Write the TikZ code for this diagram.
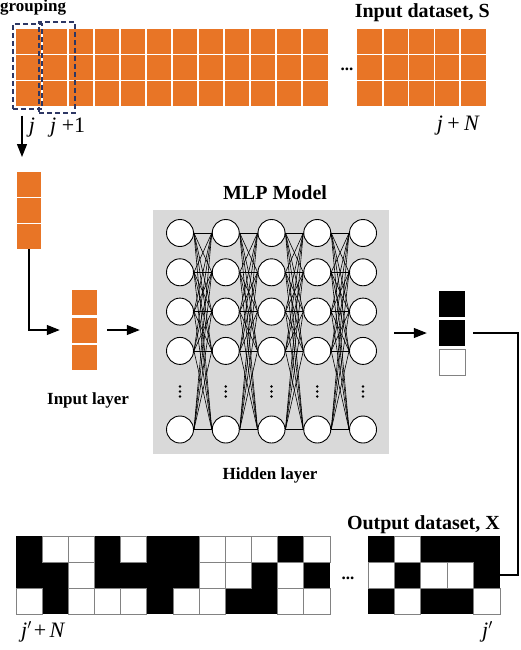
\documentclass[tikz,border=0pt]{standalone}
\usepackage{fontspec}
\setmainfont{Liberation Serif}
\usetikzlibrary{positioning,arrows.meta}
\definecolor{cellorange}{RGB}{232,117,38}
\definecolor{mlpgray}{RGB}{217,217,217}
\definecolor{grpblue}{RGB}{45,55,100}
\definecolor{gridgray}{RGB}{130,130,130}
\begin{document}
\begin{tikzpicture}[x=1pt,y=-1pt,
  bigtitle/.style={font=\fontsize{20}{22}\selectfont\bfseries, inner sep=0pt},
  subtitle/.style={font=\fontsize{17}{19}\selectfont\bfseries, inner sep=0pt},
  idx/.style={font=\fontsize{22}{24}\selectfont, inner sep=0pt},
  block/.style={inner sep=0pt, minimum height=77},
  gap/.style={white, line width=1.5pt},
  grpbox/.style={draw=grpblue, line width=1.3pt, dash pattern=on 5pt off 3pt, inner sep=0pt},
  ocell/.style={fill=cellorange, minimum width=25, minimum height=25, inner sep=0pt},
  bcell/.style={fill=black, minimum width=26, minimum height=26, inner sep=0pt},
  wcell/.style={fill=white, draw=gridgray, line width=0.8pt, minimum width=26, minimum height=26, inner sep=0pt},
  wbox/.style={fill=white, draw=gridgray, line width=0.8pt},
  neuron/.style={circle, draw, fill=white, line width=0.9pt, minimum size=27, inner sep=0pt},
  link/.style={line width=0.6pt},
  arr/.style={-{Triangle[length=13pt,width=10pt]}, line width=1.2pt}]
\useasboundingbox (0,0) rectangle (520,650);

\node[block, fill=cellorange, minimum width=312] (sl) at (172,67.5) {};
\node[block, fill=cellorange, minimum width=129] (sr) at (421.5,67.5) {};
\foreach \c in {1,...,11}
  \draw[gap] (16+\c*26,29) -- ++(0,77);
\foreach \c in {1,...,4}
  \draw[gap] (357+\c*25.8,29) -- ++(0,77);
\foreach \r in {1,2} {
  \draw[gap] (16,29+\r*25.67) -- ++(312,0);
  \draw[gap] (357,29+\r*25.67) -- ++(129,0);
}
\node[grpbox, minimum width=29, minimum height=85] (g1) at (27.5,66.5) {};
\node[grpbox, minimum width=36, minimum height=91] (g2) at (57,67.5) {};
\node[subtitle, anchor=base] (sdots) at (347,71) {...};

\node[subtitle, anchor=base west] (grp) at (0,12) {grouping};
\node[bigtitle, anchor=base east] (stitle) at (490,18) {Input dataset, S};
\node[idx, anchor=base] (lj) at (32,132) {\textit{j}};
\node[idx, anchor=base west] (lj1) at (50,132) {\textit{j}\hspace{0.25em}+1};
\node[idx, anchor=base east] (ljn) at (480,131) {\textit{j}\hspace{0.2em}+\hspace{0.2em}\textit{N}};

\foreach \i in {1,2,3}
  \node[ocell, minimum width=24] (s\i) at (29,158.5+26*\i) {};
\foreach \i in {1,2,3}
  \node[ocell] (in\i) at (84.5,275+27.5*\i) {};
\node[subtitle, anchor=base] (inlabel) at (88,404) {Input layer};

\coordinate (drop) at (22,157);
\draw[arr, shorten <=6pt] (g1.south -| drop) -- (drop);
\draw[arr, shorten >=12pt] (s3.south) |- (in2.west);

\node[fill=mlpgray, minimum width=236, minimum height=244, inner sep=0pt] (mlp) at (271,332) {};
\node[bigtitle, anchor=base] (mlptitle) at (275,199) {MLP Model};
\node[subtitle, anchor=base] (hidden) at (270,479) {Hidden layer};

\foreach \c in {1,...,5} {
  \foreach \r in {1,2,3,4,6}
    \node[neuron] (n\c\r) at ({180+45.75*(\c-1)},{233+39.3*(\r-1)}) {};
  \foreach \k in {0,1,2}
    \fill ({180+45.75*(\c-1)},386.5+5*\k) circle (1.4);
}
\foreach \c [count=\d from 2] in {1,...,4}
  \foreach \r in {1,2,3,4,6}
    \foreach \s in {1,2,3,4,6}
      \draw[link] (n\c\r.east) -- (n\d\s.west);

\draw[arr, shorten <=10pt, shorten >=13pt] (in2.east) -- (in2.east -| mlp.west);

\node[bcell] (o1) at (452,304) {};
\node[bcell] (o2) at (452,333) {};
\node[wcell] (o3) at (452,362) {};
\draw[arr, shorten <=5pt, shorten >=12pt] (mlp.east |- o2.west) -- (o2.west);

\node[fill=black, minimum width=314, minimum height=78, inner sep=0pt] (xl) at (173,575) {};
\node[fill=black, minimum width=132, minimum height=78, inner sep=0pt] (xr) at (434,575) {};
\foreach \r/\cols in {0/{1,2,4,7,8,9,11}, 1/{2,7,8,10}, 2/{0,2,3,4,6,7,10,11}}
  \foreach \c in \cols
    \draw[wbox] (16+\c*26.1667,536+\r*26) rectangle ++(26.1667,26);
\foreach \r/\cols in {0/{1}, 1/{0,2,3}, 2/{1,4}}
  \foreach \c in \cols
    \draw[wbox] (368+\c*26.4,536+\r*26) rectangle ++(26.4,26);
\node[subtitle, anchor=base] (xdots) at (348,579) {...};

\coordinate (bend) at (518,333);
\draw[line width=1.2pt, shorten <=8pt] (o2.east) -- (bend) |- (xr.east);

\node[bigtitle, anchor=base east] (xtitle) at (500,529) {Output dataset, X};
\node[idx, anchor=base west] (ljpn) at (21,637) {\textit{j}$'$\hspace{0.1em}+\hspace{0.15em}\textit{N}};
\node[idx, anchor=base east] (ljp) at (493,637) {\textit{j}$'$};
\end{tikzpicture}
\end{document}
